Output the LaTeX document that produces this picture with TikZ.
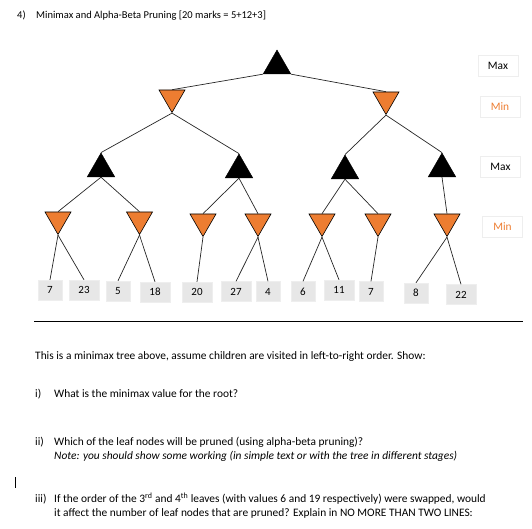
\documentclass[tikz,border=0pt]{standalone}
\usepackage{fontspec}
\setmainfont{Carlito}
\usepackage{tikz}
\usetikzlibrary{positioning,shapes.geometric}
\usepackage{xcolor}
\definecolor{minorange}{RGB}{237,125,49}
\definecolor{leafgray} {RGB}{231,231,231}
\definecolor{boxline}  {RGB}{238,238,238}

\begin{document}
\begin{tikzpicture}[x=1pt, y=-1pt,
    font=\fontsize{11.4}{13}\selectfont,
    maxnode/.style={regular polygon, regular polygon sides=3, minimum size=32pt,
          inner sep=0pt, fill=black, draw=black},
    minnode/.style={regular polygon, regular polygon sides=3, minimum size=30pt,
          inner sep=0pt, shape border rotate=180, fill=minorange, draw=black, line width=0.6pt},
    leaf/.style={fill=leafgray, draw=boxline, inner xsep=9.5pt, inner ysep=0pt,
          minimum height=20pt, font=\fontsize{11}{13}\selectfont},
    level/.style={draw=boxline, minimum width=40pt, minimum height=21pt, inner sep=0pt},
    edge/.style={draw=black!85, line width=0.7pt},
    txt/.style={anchor=base west, inner sep=0pt}]
  \useasboundingbox (0,0) rectangle (532,529);

  % header
  \node[txt, font=\fontsize{10.5}{12}\selectfont] (num) at (17,18.3) {4)};
  \node[txt, font=\fontsize{10.5}{12}\selectfont] (title) at (36,18.3) {Minimax and Alpha-Beta Pruning [20 marks = 5+12+3]};

  % tree
  \node[maxnode] (root) at (277,66) {};
  \node[minnode] (a) at (172,97.5) {};
  \node[minnode] (b) at (386,99.5) {};
  \node[maxnode] (aa) at (101,169) {};
  \node[maxnode] (ab) at (239,170) {};
  \node[maxnode] (ba) at (345,171) {};
  \node[maxnode] (bb) at (442,169) {};
  \foreach \name/\x/\y in {n1/58/219.5, n2/139.5/219.5, n3/203/221.5, n4/258/221.5,
                           n5/322/221.5, n6/378/221.5, n7/447/221.5}
    \node[minnode] (\name) at (\x,\y) {};

  % leaves
  \foreach \name/\x/\y/\v in {v1/50/290/7, v2/84/290/23, v3/118/291/5, v4/155/292/18,
                              v5/197/292/20, v6/236/291.5/27, v7/268/291.5/4, v8/303/291.5/6,
                              v9/339/290/11, v10/371/291.5/7, v11/416/293/8, v12/461/294.5/22}
    \node[leaf] (\name) at (\x,\y) {\v};

  % connectors
  \draw[edge] (root.corner 2) -- (a.north);
  \draw[edge] (root.corner 3) -- (b.north);
  \draw[edge] (a.corner 1) -- (aa.corner 1);
  \draw[edge] (a.corner 1) -- (ab.corner 1);
  \draw[edge] (b.corner 1) -- (ba.corner 1);
  \draw[edge] (b.corner 1) -- (bb.corner 1);
  \foreach \p/\c in {aa/n1, aa/n2, ab/n3, ab/n4, ba/n5, ba/n6, bb/n7}
    \draw[edge] (\p.south) -- (\c.north);
  \foreach \p/\c in {n1/v1, n1/v2, n2/v3, n2/v4, n3/v5, n4/v6, n4/v7,
                     n5/v8, n5/v9, n6/v10, n7/v11, n7/v12}
    \draw[edge] (\p.corner 1) -- (\c.north);

  % level labels
  \node[level] (lmax1) at (498,65.5) {Max};
  \node[level, text=minorange] (lmin1) at (500,107) {Min};
  \node[level] (lmax2) at (500.5,166.5) {Max};
  \node[level, text=minorange] (lmin2) at (502.5,226.5) {Min};

  % rule
  \draw[line width=0.8pt] (34,321) -- (523,321);

  % questions
  \node[txt] (intro) at (35,359.3) {This is a minimax tree above, assume children are visited in left-to-right order. Show:};
  \node[txt] (qa) at (35,397) {i)};
  \node[txt] (qatext) at (54,397) {What is the minimax value for the root?};
  \node[txt] (qb) at (35,445) {ii)};
  \node[txt] (qbtext) at (54,445) {Which of the leaf nodes will be pruned (using alpha-beta pruning)?};
  \node[txt] (qbnote) at (54,459) {\itshape Note: you should show some working (in simple text or with the tree in different stages)};
  \node[txt] (qc) at (35,502.7) {iii)};
  \node[txt] (qctext) at (54,502.7) {If the order of the 3\textsuperscript{rd} and 4\textsuperscript{th} leaves (with values 6 and 19 respectively) were swapped, would};
  \node[txt] (qctext2) at (54,516.7) {it affect the number of leaf nodes that are pruned? Explain in NO MORE THAN TWO LINES:};

  % cursor
  \draw[line width=0.8pt] (15,477) -- (15,488);
\end{tikzpicture}
\end{document}
